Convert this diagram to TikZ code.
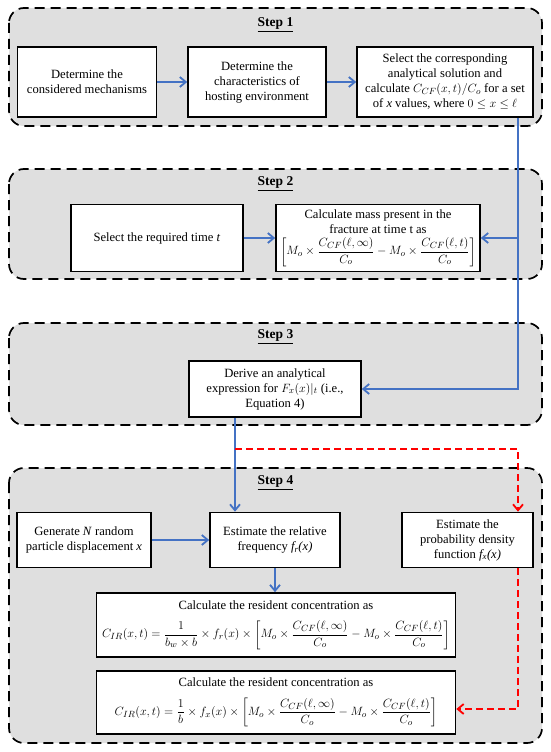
\documentclass[tikz,border=0pt]{standalone}
\usepackage{amsmath}
\usepackage{fontspec}
\setmainfont{Liberation Serif}
\usetikzlibrary{arrows.meta}
\definecolor{flowblue}{RGB}{68,114,196}

\begin{document}
\begin{tikzpicture}[x=1pt, y=-1pt, font=\fontsize{12.6}{15}\selectfont,
		panel/.style={draw, dash pattern=on 10pt off 6pt, line width=1.7pt, rounded corners=15pt, fill=gray!25},
		box/.style={draw, line width=1.6pt, fill=white, align=center, inner sep=1pt},
		title/.style={font=\fontsize{13.5}{15}\selectfont\bfseries},
		flow/.style={flowblue, line width=1.8pt, -{Straight Barb[length=6pt,width=10pt]}},
		pdf/.style={red, line width=1.8pt, dash pattern=on 7pt off 4pt, -{Straight Barb[length=6pt,width=10pt]}}]
		\useasboundingbox (0,0) rectangle (550,752);
		\draw [panel] (9,8) rectangle (542,126);
		\draw [panel] (9,169) rectangle (542,279);
		\draw [panel] (9,323) rectangle (542,425);
		\draw [panel] (9,468) rectangle (542,743);
		\node [title] (s1) at (275.5,25) {\underline{Step 1}};
		\node [title] (s2) at (275.5,184) {\underline{Step 2}};
		\node [title] (s3) at (275.5,337) {\underline{Step 3}};
		\node [title] (s4) at (275.5,483) {\underline{Step 4}};
		\node [box, minimum width=139pt, minimum height=70pt] (mech) at (87,82) {Determine the\\considered mechanisms};
		\node [box, minimum width=138pt, minimum height=70pt] (host) at (257,82) {Determine the\\characteristics of\\hosting environment};
		\node [box, minimum width=176pt, minimum height=70pt] (sel) at (445,82) {Select the corresponding\\analytical solution and\\calculate $C_{CF}(x,t)/C_o$ for a set\\of \textit{x} values, where $0\leq x\leq\ell$};
		\node [box, minimum width=172pt, minimum height=67pt] (time) at (157,238) {Select the required time \textit{t}};
		\node [box, minimum width=204pt, minimum height=67pt] (mass) at (378,238) {Calculate mass present in the\\fracture at time t as\\[3pt]$\left[M_o\times\dfrac{C_{CF}(\ell,\infty)}{C_o}-M_o\times\dfrac{C_{CF}(\ell,t)}{C_o}\right]$};
		\node [box, minimum width=172pt, minimum height=56pt] (derive) at (275,389) {Derive an analytical\\expression for $F_x(x)|_t$ (i.e.,\\Equation 4)};
		\node [box, minimum width=134pt, minimum height=55pt] (gen) at (84,540) {Generate \textit{N} random\\particle displacement \textit{x}};
		\node [box, minimum width=130pt, minimum height=55pt] (rel) at (275,540) {Estimate the relative\\frequency \textit{f\textsubscript{r}(x)}};
		\node [box, minimum width=131pt, minimum height=55pt] (prob) at (467.5,540) {Estimate the\\probability density\\function \textit{f\textsubscript{x}(x)}};
		\node [box, minimum width=359pt, minimum height=64pt] (calc1) at (276,625) {Calculate the resident concentration as\\[10pt]$C_{IR}(x,t)=\dfrac{1}{b_w\times b}\times f_r(x)\times\left[M_o\times\dfrac{C_{CF}(\ell,\infty)}{C_o}-M_o\times\dfrac{C_{CF}(\ell,t)}{C_o}\right]$};
		\node [box, minimum width=359pt, minimum height=63pt] (calc2) at (276,702.5) {Calculate the resident concentration as\\[10pt]$C_{IR}(x,t)=\dfrac{1}{b}\times f_x(x)\times\left[M_o\times\dfrac{C_{CF}(\ell,\infty)}{C_o}-M_o\times\dfrac{C_{CF}(\ell,t)}{C_o}\right]$};
		\coordinate (rail) at (518,0);
		\coordinate (drop) at (235,0);
		\coordinate (fork) at (235,449);
		\draw [flow] (mech) -- (host);
		\draw [flow] (host) -- (sel);
		\draw [flow] (time) -- (mass);
		\draw [flow] (sel.south -| rail) |- (derive.east);
		\draw [flow] (mass.east -| rail) -- (mass.east);
		\draw [flow] (derive.south -| drop) -- (rel.north -| drop);
		\draw [flow] (gen) -- (rel);
		\draw [flow] (rel.south) -- (rel.south |- calc1.north);
		\draw [pdf] (fork) -| (prob.north -| rail);
		\draw [pdf] (prob.south -| rail) |- ([yshift=-6.5pt]calc2.east);
	\end{tikzpicture}
\end{document}
